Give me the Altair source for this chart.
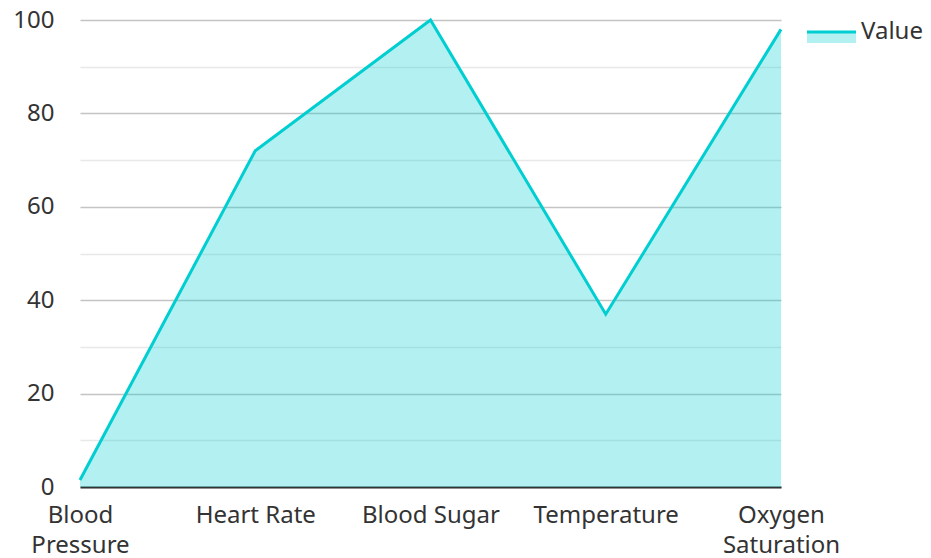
import altair as alt
import pandas as pd

categories = ["Blood Pressure", "Heart Rate", "Blood Sugar", "Temperature", "Oxygen Saturation"]
values = [1.5, 72, 100, 37, 98]
series_name = "Value"

df = pd.DataFrame({"category": categories, "value": values})

LINE = "#00CED1"
FONT = "Noto Sans"
FS = 24

x_enc = alt.X(
    "category:N",
    sort=categories,
    scale=alt.Scale(type="point", padding=0),
    axis=alt.Axis(
        title=None,
        labelAngle=0,
        labelFontSize=FS,
        labelColor="#333333",
        labelFont=FONT,
        labelPadding=16,
        labelLineHeight=30,
        labelOverlap=False,
        labelBound=False,
        labelExpr="length(datum.label) > 12 ? split(datum.label, ' ') : datum.label",
        domainColor="#333333",
        domainWidth=2,
        ticks=False,
        grid=False,
    ),
)
y_enc = alt.Y(
    "value:Q",
    scale=alt.Scale(domain=[0, 100], nice=False),
    axis=alt.Axis(
        title=None,
        values=list(range(0, 101, 10)),
        labelExpr="datum.value % 20 == 0 ? datum.label : ''",
        labelFontSize=FS,
        labelColor="#333333",
        labelFont=FONT,
        labelPadding=26,
        labelOverlap=False,
        ticks=False,
        domain=False,
        gridColor={"condition": {"test": "datum.value % 20 == 0", "value": "#c4c4c4"}, "value": "#e8e8e8"},
        gridWidth=1.5,
    ),
)

base = alt.Chart(df)
area = base.mark_area(color=LINE, opacity=0.3).encode(x=x_enc, y=y_enc)
line = base.mark_line(color=LINE, strokeWidth=3).encode(x=x_enc, y=y_enc)

leg = pd.DataFrame({"name": [series_name]})
leg_base = alt.Chart(leg)
leg_rect = leg_base.mark_rect(color=LINE, opacity=0.3).encode(
    x=alt.value(727), x2=alt.value(776), y=alt.value(13), y2=alt.value(23)
)
leg_line = leg_base.mark_rule(color=LINE, strokeWidth=3).encode(
    x=alt.value(727), x2=alt.value(776), y=alt.value(12)
)
leg_text = leg_base.mark_text(
    align="left", baseline="middle", fontSize=FS, font=FONT, color="#333333"
).encode(x=alt.value(781), y=alt.value(12), text="name:N")

chart = (
    alt.layer(area, line, leg_rect, leg_line, leg_text)
    .properties(
        width=701,
        height=467,
        padding={"left": 72, "top": 12, "right": 142, "bottom": 80},
        autosize=alt.AutoSizeParams(type="none"),
    )
    .configure_view(stroke=None)
)

chart.save("out.html", embed_options={"renderer": "svg", "actions": False})
